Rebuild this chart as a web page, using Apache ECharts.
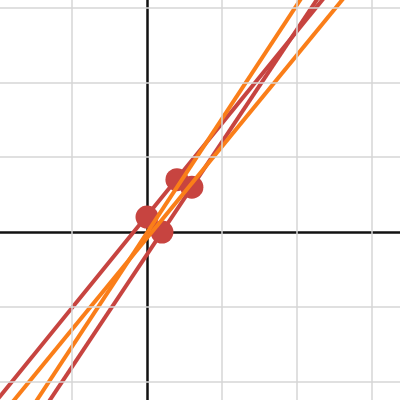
<!DOCTYPE html>
<html>
<head>
<meta charset="utf-8">
<script src="https://cdn.jsdelivr.net/npm/echarts@6/dist/echarts.min.js"></script>
<style>
html,body{margin:0;padding:0;background:#fff;}
#c{width:400px;height:400px;}
</style>
</head>
<body>
<div id="c"></div>
<script>
// Line endpoints [x, y] in data units
const redLineA = [[-2.5, -2.855], [3.5, 4.525]];
const redLineD = [[-2.5, -4.05], [3.5, 4.95]];
const orangeLineB = [[-2.5, -3.13], [3.5, 4.19]];
const orangeLineC = [[-2.5, -3.81], [3.5, 5.31]];
// Red points
const redPoints = [[0, 0.2], [0.2, 0], [0.4, 0.7], [0.6, 0.6]];
// Grid line positions
const gridX = [-1, 1, 2, 3];
const gridY = [-2, -1, 1, 2, 3];
// Visible window
const xRange = [-1.965, 3.382];
const yRange = [-2.246, 3.102];

const RED = '#c74440';
const ORANGE = '#fa7e19';

const chart = echarts.init(document.getElementById('c'));
const axisCommon = {
  type: 'value',
  axisLabel: {show: false},
  axisTick: {show: false},
  axisLine: {show: true, onZero: true, lineStyle: {color: '#111', width: 2.5}},
  splitLine: {show: false}
};
const gridMarks = gridX.map(v => ({xAxis: v})).concat(gridY.map(v => ({yAxis: v})));
chart.setOption({
  animation: false,
  backgroundColor: '#fff',
  grid: {left: 0, top: 0, right: 0, bottom: 0, containLabel: false},
  xAxis: Object.assign({}, axisCommon, {min: xRange[0], max: xRange[1]}),
  yAxis: Object.assign({}, axisCommon, {min: yRange[0], max: yRange[1]}),
  series: [
    {type: 'line', data: [[-10, -10]], symbol: 'none', lineStyle: {opacity: 0}, z: 0, silent: true,
     markLine: {silent: true, symbol: ['none', 'none'], label: {show: false},
       lineStyle: {color: '#d6d6d6', width: 1.5, type: 'solid'}, data: gridMarks}},
    {type: 'line', data: redLineA, symbol: 'none', lineStyle: {color: RED, width: 4}, z: 2},
    {type: 'line', data: redLineD, symbol: 'none', lineStyle: {color: RED, width: 4}, z: 2},
    {type: 'scatter', data: redPoints, symbol: 'circle', symbolSize: 23, itemStyle: {color: RED, opacity: 1}, z: 3},
    {type: 'line', data: orangeLineB, symbol: 'none', lineStyle: {color: ORANGE, width: 4}, z: 4},
    {type: 'line', data: orangeLineC, symbol: 'none', lineStyle: {color: ORANGE, width: 4}, z: 4}
  ]
});
</script>
</body>
</html>
